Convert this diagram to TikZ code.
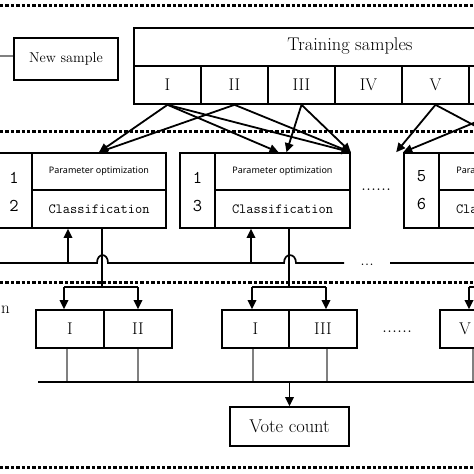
\documentclass[tikz,border=0pt]{standalone}
\usepackage{fontspec}
\newfontfamily\sansf{Noto Sans}
\usetikzlibrary{arrows.meta}
\begin{document}
\begin{tikzpicture}[x=1pt,y=-1pt,
  box/.style={draw,line width=1.6pt,inner sep=0pt},
  sepline/.style={line width=3pt,dash pattern=on 3.3pt off 2.1pt},
  arr/.style={line width=1.8pt,-{Triangle[length=9pt,width=8.5pt]}},
  ln/.style={line width=1.7pt},
  gline/.style={line width=1.1pt,gray},
  serif/.style={font=\fontsize{17}{20}\selectfont},
  popt/.style={font=\sansf\fontsize{9}{11}\selectfont},
  cls/.style={font=\ttfamily\fontsize{14}{16}\selectfont},
  num/.style={font=\ttfamily\fontsize{18}{20}\selectfont},
  dots/.style={font=\fontsize{20}{22}\selectfont,inner sep=0pt}
]
\useasboundingbox (0,0) rectangle (474,474);
\clip (0,0) rectangle (474,474);
% separators
\draw[sepline] (0,5) -- (474,5);
\draw[sepline] (0,131.5) -- (474,131.5);
\draw[sepline] (0,282) -- (474,282);
\draw[sepline] (0,467) -- (474,467);
% new sample
\node[box,minimum width=104pt,minimum height=42pt,font=\fontsize{14.3}{16}\selectfont] (new) at (66,59) {New sample};
\coordinate (nl) at (0,56);
\draw[gline] (nl) -- (nl -| new.west);
% training samples
\node[box,minimum width=402pt,minimum height=38pt] (tt) at (335,47) {};
\node[font=\fontsize{18.4}{21}\selectfont] (ts) at (350,46) {Training samples};
\foreach \i/\x/\t in {1/167.5/I,2/234.5/II,3/301.5/III,4/368.5/IV,5/435.5/V,6/502.5/{}}
  \node[box,serif,minimum width=67pt,minimum height=38pt] (t\i) at (\x,85) {\t};
% middle boxes
\node[box,minimum width=36pt,minimum height=75pt] (n1) at (14,190.5) {};
\node[box,popt,minimum width=134pt,minimum height=37pt] (p1) at (99,171.5) {Parameter optimization};
\node[box,cls,minimum width=134pt,minimum height=38pt] (c1) at (99,209) {Classification};
\node[num] (n1a) at (14,178) {1};
\node[num] (n1b) at (14,206) {2};
\node[box,minimum width=35pt,minimum height=75pt] (n2) at (197.5,190.5) {};
\node[box,popt,minimum width=135pt,minimum height=37pt] (p2) at (282.5,171.5) {Parameter optimization};
\node[box,cls,minimum width=135pt,minimum height=38pt] (c2) at (282.5,209) {Classification};
\node[num] (n2a) at (197.5,178) {1};
\node[num] (n2b) at (197.5,206) {3};
\node[box,minimum width=35pt,minimum height=75pt] (n3) at (421.5,190.5) {};
\node[box,popt,minimum width=135pt,minimum height=37pt] (p3) at (506.5,171.5) {Parameter optimization};
\node[box,cls,minimum width=135pt,minimum height=38pt] (c3) at (506.5,209) {Classification};
\node[num] (n3a) at (421.5,176) {5};
\node[num] (n3b) at (421.5,204) {6};
\node[dots,anchor=base] (md) at (376,190) {......};
% arrows training -> boxes
\draw[arr] (t1.south) -- (p1.north);
\draw[arr] (t2.south) -- (p1.north);
\draw[arr] (t1.south) -- ([xshift=-4pt]p2.north);
\draw[arr] (t3.south) -- ([xshift=4pt]p2.north);
\draw[arr] (t1.south) -- (p2.north east);
\draw[arr] (t2.south) -- (p2.north east);
\draw[arr] (t3.south) -- (p2.north east);
\draw[arr] (t5.south) -- ([xshift=-7pt]n3.north west);
\draw[arr] ([xshift=15pt]t6.south) -- (n3.north west);
\coordinate (vx) at (526,153);
\draw[arr] (t5.south) -- (vx);
% feedback line with hops
\coordinate (h0) at (0,263);
\coordinate (h1) at (344,263);
\coordinate (h2) at (390,263);
\coordinate (h3) at (474,263);
\draw[ln] (h0) -- (97,263) .. controls (97,252.5) and (108,252.5) .. (108,263)
  -- (284,263) .. controls (284,252.5) and (296,252.5) .. (296,263) -- (h1);
\draw[ln] (h2) -- (h3);
\node[font=\fontsize{18}{20}\selectfont,inner sep=0pt,anchor=base] (hd) at (367,265) {...};
\coordinate (u1) at (68,263);
\coordinate (u2) at (251,263);
\draw[arr] (u1) -- (u1 |- c1.south);
\draw[arr] (u2) -- (u2 |- c2.south);
% bottom pair boxes
\node[box,serif,minimum width=68pt,minimum height=38pt] (q1a) at (70,329) {I};
\node[box,serif,minimum width=68pt,minimum height=38pt] (q1b) at (138,329) {II};
\node[box,serif,minimum width=67pt,minimum height=38pt] (q2a) at (255.5,329) {I};
\node[box,serif,minimum width=68pt,minimum height=38pt] (q2b) at (323,329) {III};
\node[box,serif,minimum width=50pt,minimum height=38pt] (qv) at (465,329) {V};
\node[dots,anchor=base] (bd) at (397,332) {......};
\node[serif,anchor=base east,inner sep=0pt] (lab) at (10,313) {n};
% down lines to pair boxes
\coordinate (d1) at (102,287);
\coordinate (d2) at (289,287);
\coordinate (a1) at (64,287);
\coordinate (a2) at (138,287);
\coordinate (a3) at (252,287);
\coordinate (a4) at (326,287);
\coordinate (a5) at (469,287);
\coordinate (a6) at (474,287);
\draw[ln] (d1 |- c1.south) -- (d1);
\draw[ln] (d2 |- c2.south) -- (d2);
\draw[ln] (a1) -- (a2);
\draw[ln] (a3) -- (a4);
\draw[ln] (a5) -- (a6);
\draw[arr] (a1) -- (a1 |- q1a.north);
\draw[arr] (a2) -- (a2 |- q1b.north);
\draw[arr] (a3) -- (a3 |- q2a.north);
\draw[arr] (a4) -- (a4 |- q2b.north);
\draw[arr] (a5) -- (a5 |- qv.north);
% vote
\coordinate (g0) at (38,382);
\coordinate (g1) at (474,382);
\coordinate (g2) at (289.5,382);
\coordinate (gv1) at (67,382);
\coordinate (gv2) at (138,382);
\coordinate (gv3) at (253,382);
\coordinate (gv4) at (327,382);
\coordinate (gv5) at (473,382);
\draw[gline] (gv1 |- q1a.south) -- (gv1);
\draw[gline] (gv2 |- q1b.south) -- (gv2);
\draw[gline] (gv3 |- q2a.south) -- (gv3);
\draw[gline] (gv4 |- q2b.south) -- (gv4);
\draw[gline] (gv5 |- qv.south) -- (gv5);
\draw[ln] (g0) -- (g1);
\node[box,minimum width=119pt,minimum height=39pt,font=\fontsize{18.5}{21}\selectfont] (vote) at (289.5,426.5) {Vote count};
\draw[arr] (g2) -- (vote.north);
\end{tikzpicture}
\end{document}
